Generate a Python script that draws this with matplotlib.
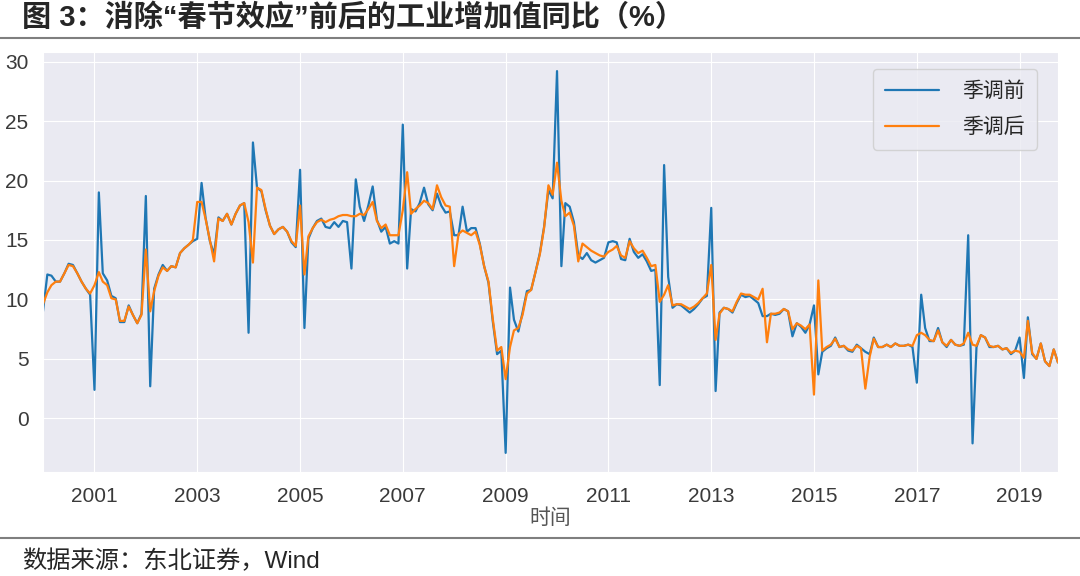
import pandas as pd
import matplotlib
matplotlib.use("Agg")
import matplotlib.pyplot as plt
import matplotlib.dates as mdates
from matplotlib.lines import Line2D
import seaborn as sns

# 工业增加值当月同比(%)，2000-01 ~ 2019-10
before = [
    9.0, 12.1, 12.0, 11.5, 11.5, 12.2, 13.0, 12.9, 12.2, 11.5, 10.9, 10.4,    # 2000
    2.4, 19.0, 12.2, 11.6, 10.3, 10.1, 8.1, 8.1, 9.5, 8.7, 8.0, 8.8,          # 2001
    18.7, 2.7, 10.9, 12.1, 12.9, 12.4, 12.8, 12.7, 13.9, 14.3, 14.6, 14.9,    # 2002
    15.1, 19.8, 16.9, 14.9, 13.8, 16.9, 16.6, 17.2, 16.3, 17.2, 17.9, 18.1,   # 2003
    7.2, 23.2, 19.4, 19.1, 17.5, 16.2, 15.5, 15.9, 16.1, 15.7, 14.8, 14.4,    # 2004
    20.9, 7.6, 15.1, 16.0, 16.6, 16.8, 16.1, 16.0, 16.5, 16.1, 16.6, 16.5,    # 2005
    12.6, 20.1, 17.8, 16.6, 17.9, 19.5, 16.7, 15.7, 16.1, 14.7, 14.9, 14.7,   # 2006
    24.7, 12.6, 17.6, 17.4, 18.1, 19.4, 18.0, 17.5, 18.9, 17.9, 17.3, 17.4,   # 2007
    15.4, 15.4, 17.8, 15.7, 16.0, 16.0, 14.7, 12.8, 11.4, 8.2, 5.4, 5.7,      # 2008
    -2.9, 11.0, 8.3, 7.3, 8.9, 10.7, 10.8, 12.3, 13.9, 16.1, 19.2, 18.5,      # 2009
    29.2, 12.8, 18.1, 17.8, 16.5, 13.7, 13.4, 13.9, 13.3, 13.1, 13.3, 13.5,   # 2010
    14.8, 14.9, 14.8, 13.4, 13.3, 15.1, 14.0, 13.5, 13.8, 13.2, 12.4, 12.5,   # 2011
    2.8, 21.3, 11.9, 9.3, 9.6, 9.5, 9.2, 8.9, 9.2, 9.6, 10.1, 10.3,           # 2012
    17.7, 2.3, 8.9, 9.3, 9.2, 8.9, 9.7, 10.4, 10.2, 10.3, 10.0, 9.7,          # 2013
    8.6, 8.6, 8.8, 8.7, 8.8, 9.2, 9.0, 6.9, 8.0, 7.7, 7.2, 7.9,               # 2014
    9.5, 3.7, 5.6, 5.9, 6.1, 6.8, 6.0, 6.1, 5.7, 5.6, 6.2, 5.9,               # 2015
    5.6, 5.4, 6.8, 6.0, 6.0, 6.2, 6.0, 6.3, 6.1, 6.1, 6.2, 6.0,               # 2016
    3.0, 10.4, 7.6, 6.5, 6.5, 7.6, 6.4, 6.0, 6.6, 6.2, 6.1, 6.2,              # 2017
    15.4, -2.1, 6.0, 7.0, 6.8, 6.0, 6.0, 6.1, 5.8, 5.9, 5.4, 5.7,             # 2018
    6.8, 3.4, 8.5, 5.4, 5.0, 6.3, 4.8, 4.4, 5.8, 4.7,                         # 2019
]

after = [
    9.6, 10.6, 11.2, 11.5, 11.5, 12.2, 12.9, 12.8, 12.2, 11.5, 10.9, 10.5,    # 2000
    11.2, 12.3, 11.5, 11.2, 10.1, 10.0, 8.2, 8.2, 9.4, 8.7, 8.0, 8.7,         # 2001
    14.2, 9.0, 10.7, 12.0, 12.7, 12.4, 12.8, 12.7, 13.9, 14.3, 14.6, 15.0,    # 2002
    18.2, 18.2, 16.8, 15.0, 13.2, 16.8, 16.6, 17.2, 16.3, 17.2, 17.9, 18.1,   # 2003
    16.5, 13.1, 19.4, 19.2, 17.6, 16.2, 15.5, 15.9, 16.1, 15.7, 14.9, 14.5,   # 2004
    17.9, 12.1, 15.3, 16.0, 16.5, 16.7, 16.5, 16.7, 16.8, 17.0, 17.1, 17.1,   # 2005
    17.0, 17.0, 17.2, 17.1, 17.6, 18.2, 16.6, 16.0, 16.3, 15.4, 15.4, 15.4,   # 2006
    17.5, 20.7, 17.2, 17.6, 17.9, 18.3, 18.1, 17.6, 19.6, 18.6, 17.9, 17.8,   # 2007
    12.8, 15.5, 15.8, 15.6, 15.4, 15.7, 14.6, 12.8, 11.5, 8.4, 5.7, 6.0,      # 2008
    3.3, 6.0, 7.4, 7.6, 8.7, 10.5, 10.8, 12.3, 13.8, 16.0, 19.6, 18.8,        # 2009
    21.5, 18.3, 17.0, 17.3, 16.2, 13.2, 14.7, 14.4, 14.1, 13.9, 13.7, 13.6,   # 2010
    14.0, 14.2, 14.5, 13.7, 13.5, 14.9, 14.3, 13.9, 14.1, 13.5, 12.8, 12.9,   # 2011
    9.8, 10.4, 11.2, 9.5, 9.6, 9.6, 9.4, 9.2, 9.4, 9.7, 10.1, 10.5,           # 2012
    12.9, 6.6, 8.8, 9.3, 9.2, 9.0, 9.8, 10.5, 10.4, 10.4, 10.2, 10.0,         # 2013
    10.9, 6.4, 8.8, 8.8, 8.9, 9.2, 9.0, 7.5, 8.0, 7.8, 7.5, 7.9,              # 2014
    2.0, 11.6, 5.7, 6.0, 6.2, 6.7, 6.0, 6.1, 5.8, 5.7, 6.1, 5.9,              # 2015
    2.5, 5.2, 6.7, 6.0, 6.0, 6.2, 6.0, 6.3, 6.1, 6.1, 6.2, 6.1,               # 2016
    7.0, 7.2, 7.0, 6.6, 6.5, 7.4, 6.4, 6.1, 6.6, 6.2, 6.1, 6.3,               # 2017
    7.2, 6.2, 6.1, 7.0, 6.8, 6.1, 6.0, 6.1, 5.8, 5.9, 5.5, 5.7,               # 2018
    5.6, 5.1, 8.2, 5.5, 5.0, 6.3, 4.8, 4.4, 5.8, 4.7,                         # 2019
]

labels = ["季调前", "季调后"]
tick_years = list(range(2001, 2020, 2))
y_ticks = [0, 5, 10, 15, 20, 25, 30]

dates = pd.date_range("2000-01-01", periods=len(before), freq="MS")

sns.set_style("darkgrid")
plt.rcParams["font.family"] = ["Liberation Sans", "Noto Sans CJK SC"]

fig = plt.figure(figsize=(10.8, 5.76), dpi=100)
ax = fig.add_axes([0.0398, 0.1806, 0.9398, 0.7291])

ax.plot(dates, before, color="#1f77b4", lw=1.6, label=labels[0])
ax.plot(dates, after, color="#ff7f0e", lw=1.6, label=labels[1])

ax.set_xlim(dates[0], dates[-1])
ax.set_xticks([pd.Timestamp(f"{y}-01-01") for y in tick_years])
ax.xaxis.set_major_formatter(mdates.DateFormatter("%Y"))
ax.set_yticks(y_ticks)
ax.tick_params(axis="both", labelsize=15, colors="#3a3a3a", pad=7)
ax.set_xlabel("时间", fontsize=15, color="#555555", labelpad=2)

ax.legend(loc="upper right", fontsize=15, labelspacing=0.8,
          handlelength=2.6, handletextpad=1.1, borderpad=0.6,
          bbox_to_anchor=(0.99, 0.985))

fig.text(0.02, 0.970, "图 3：消除“春节效应”前后的工业增加值同比（%）",
         fontsize=21, fontweight="bold", va="center", ha="left")
fig.add_artist(Line2D([0, 1], [0.934, 0.934], transform=fig.transFigure,
                      color="#7f7f7f", lw=1.5))
fig.add_artist(Line2D([0, 1], [0.066, 0.066], transform=fig.transFigure,
                      color="#7f7f7f", lw=1.5))
fig.text(0.02, 0.026, "数据来源：东北证券，Wind", fontsize=17.5,
         va="center", ha="left")

fig.savefig("out.png", dpi=100)
